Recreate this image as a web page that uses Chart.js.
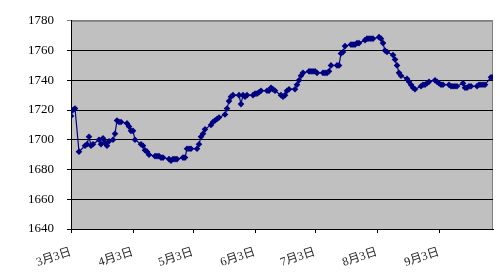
<!DOCTYPE html>
<html>
<head>
<meta charset="utf-8">
<script src="https://cdn.jsdelivr.net/npm/chart.js@4"></script>
<style>
  html, body { margin: 0; padding: 0; background: #fff; }
</style>
</head>
<body>
<canvas id="priceChart" width="500" height="279"></canvas>
<script>
// day offset from 3月3日, and the value on that day
var days = [0, 1, 2, 4, 7, 8, 9, 10, 11, 14, 15, 16, 17, 18, 19, 21, 22, 23, 24, 25,
    28, 29, 30, 31, 32, 35, 36, 37, 38, 39, 42, 43, 44, 45, 46, 49, 50, 51, 52, 53,
    56, 57, 58, 59, 60, 63, 64, 65, 66, 67, 70, 71, 72, 73, 74, 77, 78, 79, 80, 81,
    84, 85, 86, 87, 88, 91, 92, 93, 94, 95, 98, 99, 100, 101, 102, 105, 106, 107, 108, 109,
    112, 113, 114, 115, 116, 119, 120, 121, 122, 123, 126, 127, 128, 129, 130, 133, 134, 135, 136, 137,
    140, 141, 142, 143, 144, 147, 148, 149, 150, 151, 154, 155, 156, 157, 158, 161, 162, 163, 164, 165,
    168, 169, 170, 171, 172, 175, 176, 177, 178, 179, 182, 183, 184, 185, 186, 189, 190, 191, 192, 193,
    196, 197, 198, 199, 200, 203, 204, 205, 206, 207, 210, 211];
var values = [1716, 1720, 1721, 1692, 1696, 1697, 1702, 1696, 1697, 1700, 1697, 1701, 1698, 1696, 1699, 1700, 1704, 1713, 1712, 1712,
    1711, 1709, 1706, 1706, 1700, 1697, 1696, 1693, 1692, 1690, 1689, 1689, 1689, 1688, 1688, 1687, 1686, 1687, 1687, 1687,
    1688, 1688, 1694, 1694, 1694, 1694, 1697, 1702, 1704, 1707, 1710, 1712, 1713, 1714, 1715, 1717, 1721, 1726, 1729, 1730,
    1730, 1724, 1730, 1729, 1730, 1730, 1731, 1731, 1732, 1733, 1733, 1733, 1735, 1734, 1733, 1730, 1729, 1730, 1733, 1734,
    1734, 1737, 1740, 1743, 1745, 1746, 1746, 1746, 1746, 1745, 1745, 1745, 1745, 1746, 1750, 1750, 1750, 1758, 1759, 1763,
    1764, 1764, 1764, 1765, 1765, 1767, 1768, 1768, 1768, 1768, 1769, 1768, 1765, 1760, 1759, 1757, 1754, 1750, 1745, 1743,
    1741, 1739, 1737, 1735, 1734, 1736, 1737, 1737, 1738, 1739, 1740, 1739, 1738, 1737, 1737, 1737, 1736, 1736, 1736, 1736,
    1738, 1735, 1735, 1736, 1736, 1736, 1737, 1737, 1737, 1737, 1742, 1742];

var monthDays = [0, 31, 61, 92, 122, 153, 184];
var monthLabels = ['3月3日', '4月3日', '5月3日', '6月3日', '7月3日', '8月3日', '9月3日'];

var plotBack = {
    id: 'plotBack',
    beforeDraw: function (chart) {
        var a = chart.chartArea, ctx = chart.ctx;
        ctx.save();
        ctx.fillStyle = '#c0c0c0';
        ctx.fillRect(a.left, a.top, a.right - a.left, a.bottom - a.top);
        ctx.strokeStyle = '#808080';
        ctx.lineWidth = 1;
        ctx.strokeRect(a.left + 0.5, a.top + 0.5, a.right - a.left - 1, a.bottom - a.top);
        ctx.restore();
    }
};

var points = days.map(function (d, i) { return { x: d, y: values[i] }; });

new Chart(document.getElementById('priceChart').getContext('2d'), {
    type: 'line',
    data: {
        datasets: [{
            data: points,
            borderColor: '#000080',
            backgroundColor: '#000080',
            borderWidth: 1.2,
            pointStyle: 'rectRot',
            pointRadius: 3.3,
            pointBorderWidth: 0,
            tension: 0
        }]
    },
    options: {
        responsive: false,
        animation: false,
        layout: { padding: { top: 19, right: 7, left: 0, bottom: 0 } },
        plugins: { legend: { display: false }, tooltip: { enabled: false } },
        scales: {
            x: {
                type: 'linear',
                min: 0,
                max: 211,
                afterBuildTicks: function (scale) {
                    scale.ticks = monthDays.map(function (v) { return { value: v }; });
                },
                afterFit: function (scale) { scale.height = 50; },
                grid: { drawOnChartArea: false, color: '#000', tickLength: 4 },
                border: { color: '#000' },
                ticks: {
                    autoSkip: false,
                    minRotation: 18,
                    maxRotation: 18,
                    padding: 12,
                    color: '#222',
                    font: { family: '"Liberation Serif", "Noto Sans CJK JP"', size: 12 },
                    callback: function (v) {
                        var i = monthDays.indexOf(v);
                        return i >= 0 ? monthLabels[i] : '';
                    }
                }
            },
            y: {
                min: 1640,
                max: 1780,
                afterFit: function (scale) { scale.width = 71; },
                grid: {
                    color: function (c) { return c.tick.value === 1780 ? '#808080' : '#000'; },
                    tickLength: 4
                },
                border: { color: '#000' },
                ticks: {
                    stepSize: 20,
                    padding: 13,
                    color: '#000',
                    font: { family: '"Liberation Serif"', size: 13 },
                    callback: function (v) { return String(v); }
                }
            }
        }
    },
    plugins: [plotBack]
});
</script>
</body>
</html>
